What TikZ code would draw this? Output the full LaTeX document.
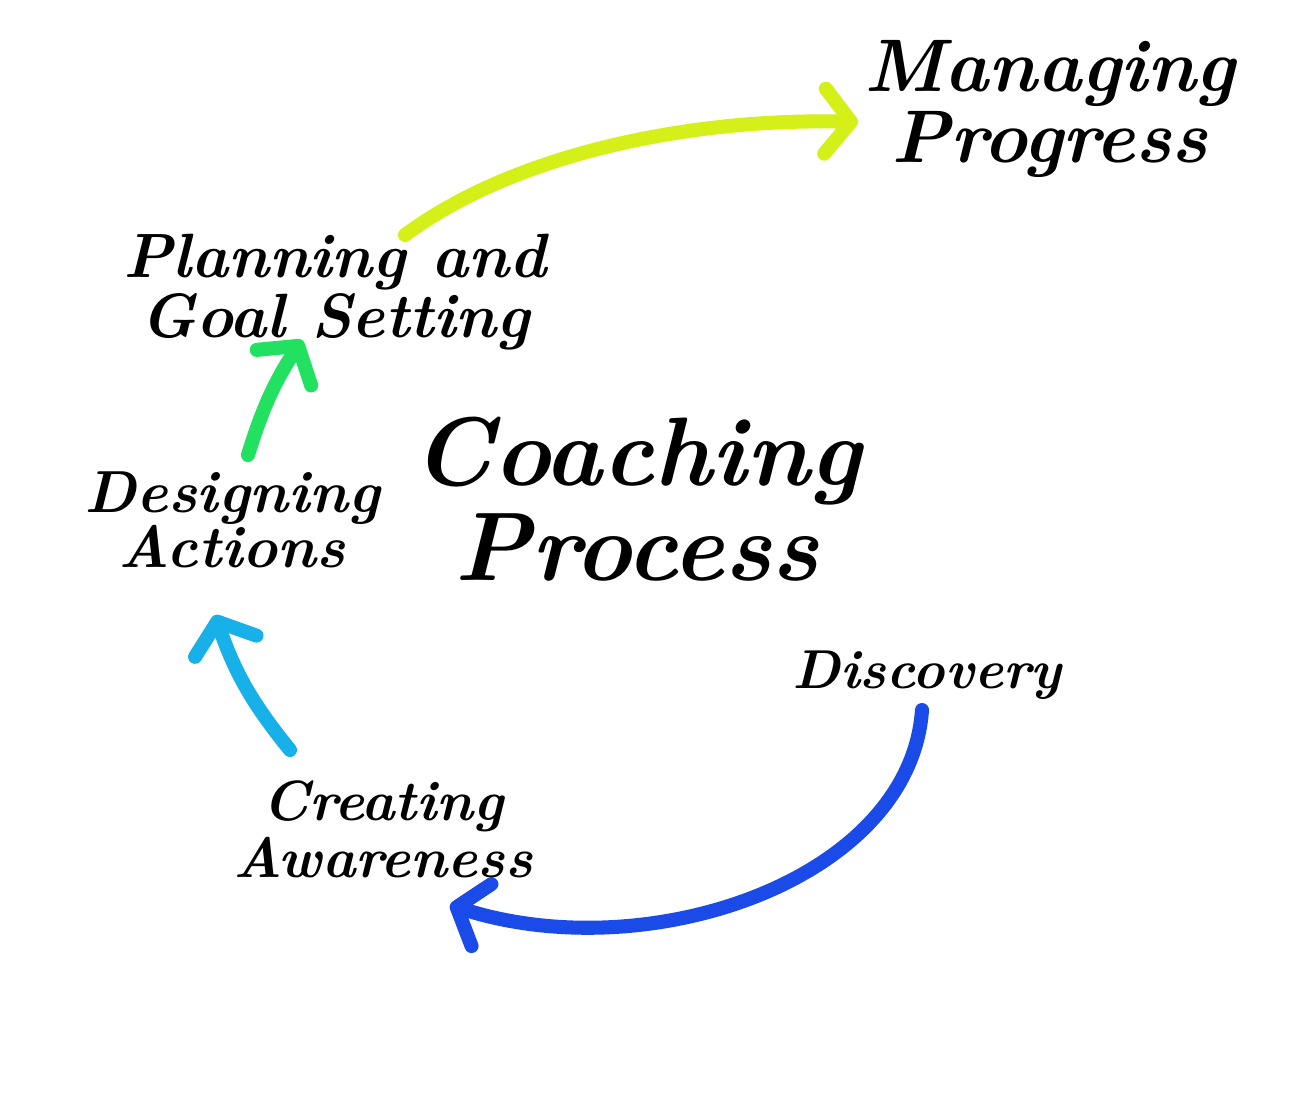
\documentclass[tikz,border=0pt]{standalone}
\usepackage{tikz}
\usetikzlibrary{arrows.meta}
\definecolor{limegreen}{RGB}{212,240,24}
\definecolor{stepgreen}{RGB}{34,224,96}
\definecolor{skyblue}{RGB}{24,176,232}
\definecolor{deepblue}{RGB}{26,74,232}

\begin{document}
\begin{tikzpicture}[
    stage/.style={align=center, inner sep=0pt},
    title/.style={align=center, font=\bfseries\itshape\fontsize{27.7}{27}\selectfont, inner sep=0pt},
    arrow/.style={line width=4pt, line cap=round, -{Straight Barb[length=2.6mm, width=6.5mm, line cap=round, line join=round]}}
]
\useasboundingbox (0,0) rectangle (13,11.19);

% Title
\node[title] at (6.37,6.2) (coach) {Coaching\\Process};

% Stages
\node[stage, font=\bfseries\itshape\fontsize{21.2}{20}\selectfont] at (10.5,10.1) (managing) {Managing\\Progress};
\node[stage, font=\bfseries\itshape\fontsize{17.8}{17}\selectfont] at (3.35,8.27) (planning) {Planning and\\Goal Setting};
\node[stage, font=\bfseries\itshape\fontsize{16.9}{15.8}\selectfont] at (2.32,5.99) (designing) {Designing\\Actions};
\node[stage, font=\bfseries\itshape\fontsize{15.6}{16}\selectfont] at (9.27,4.44) (discovery) {Discovery};
\node[stage, font=\bfseries\itshape\fontsize{16.1}{16.2}\selectfont] at (3.83,2.9) (creating) {Creating\\Awareness};

% Arrow ends
\coordinate (plan-out) at (4.05,8.84);
\coordinate (manage-in) at (8.58,9.97);
\coordinate (design-out) at (2.48,6.64);
\coordinate (plan-in) at (3.02,7.79);
\coordinate (create-out) at (2.90,3.69);
\coordinate (design-in) at (2.15,5.04);
\coordinate (disc-out) at (9.22,4.09);
\coordinate (create-in) at (4.50,2.14);

% Arrows
\draw[arrow, limegreen] (plan-out) .. controls (5.2,9.69) and (7.0,10.01) .. (manage-in);
\draw[arrow, stepgreen] (design-out) to[bend left=8] (plan-in);
\draw[arrow, skyblue] (create-out) to[bend left=10] (design-in);
\draw[arrow, deepblue] (disc-out) .. controls (9.1,2.4) and (6.5,1.5) .. (create-in);

\end{tikzpicture}
\end{document}
